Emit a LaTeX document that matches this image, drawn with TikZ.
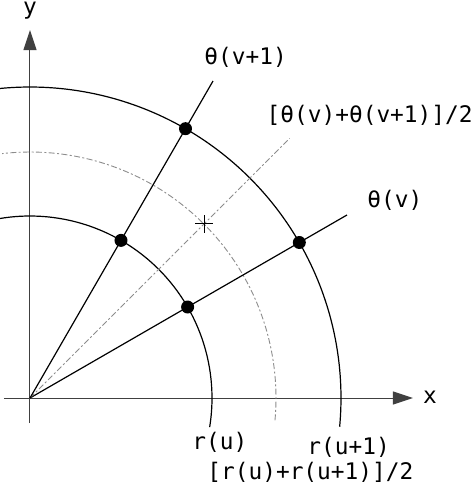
\documentclass[tikz,border=0pt]{standalone}
\usepackage{fontspec}
\newfontfamily\labelfont{DejaVu Sans Mono}
\usetikzlibrary{arrows.meta,positioning}
\usetikzlibrary{calc}

\begin{document}
\begin{tikzpicture}[
      x=0.5pt,y=0.5pt,
      axis/.style={
         draw=black!75,
         line width=0.5pt,
         -{Triangle[length=10pt,width=6.5pt]}},
      ray/.style={line width=0.6pt},
      midline/.style={
         draw=black!45,
         line width=0.45pt,
         dash pattern=on 3pt off 1.2pt on 1pt off 1.2pt},
      mydot/.style={
         circle,
         fill=black,
         inner sep=0pt,
         minimum size=6.5pt},
      mylabel/.style={
         font=\labelfont\fontsize{11.4}{13}\selectfont,
         inner sep=0pt}
      ]
      \useasboundingbox (-30,-86) rectangle (444,398);
      \coordinate (O) at (0,0);

      % axes
      \coordinate (xs) at (-26,0);
      \coordinate (xe) at (383,0);
      \coordinate (ys) at (0,-25);
      \coordinate (ye) at (0,368);
      \draw[axis] (xs) -- (xe);
      \draw[axis] (ys) -- (ye);
      \node[mylabel] (xl) at (400,1) {x};
      \node[mylabel] (yl) at (0,387) {y};

      % arcs r(u), middle, r(u+1)
      \foreach \r/\a/\b/\st in {% radius/start/end/style
        182/-9.2/99.5/ray,
        246/-5.2/96.5/midline,
        311/-5.3/95.5/ray}
        \draw[\st] (\a:\r) arc[start angle=\a, end angle=\b, radius=\r];

      % rays theta(v), middle, theta(v+1)
      \coordinate (tv) at (30:366);
      \coordinate (tm) at (45:367);
      \coordinate (tvp) at (60:366);
      \draw[ray] (O) -- (tv);
      \draw[midline] (O) -- (tm);
      \draw[ray] (O) -- (tvp);

      % grid points
      \foreach \r/\i in {182/1, 311/2}
        \foreach \ang/\j in {30/1, 60/2}
          \node[mydot] (p\i\j) at (\ang:\r) {};

      % centre of the cell
      \coordinate (c) at (45:246.5);
      \coordinate (cl) at ($(c)+(-9,0)$);
      \coordinate (cr) at ($(c)+(9,0)$);
      \coordinate (cb) at ($(c)+(0,-9)$);
      \coordinate (ct) at ($(c)+(0,9)$);
      \draw[line width=0.5pt] (cl) -- (cr);
      \draw[line width=0.5pt] (cb) -- (ct);

      % labels
      \node[mylabel,anchor=west] (ltvp) at (174,341) {θ(v+1)};
      \node[mylabel,anchor=east] (ltm) at (443,283) {[θ(v)+θ(v+1)]/2};
      \node[mylabel,anchor=west] (ltv) at (337,198) {θ(v)};
      \node[mylabel,anchor=west] (lru) at (162,-44) {r(u)};
      \node[mylabel,anchor=west] (lrup) at (277,-49) {r(u+1)};
      \node[mylabel,anchor=west] (lrm) at (177,-74) {[r(u)+r(u+1)]/2};

    \end{tikzpicture}
\end{document}
